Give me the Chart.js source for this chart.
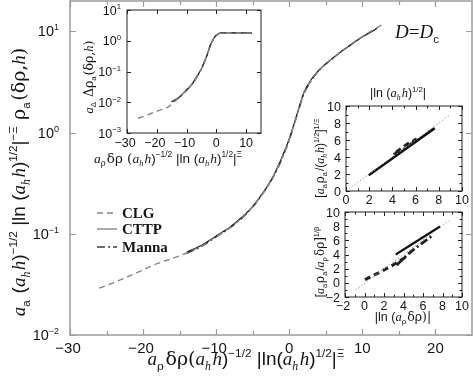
<!DOCTYPE html>
<html><head><meta charset="utf-8">
<script src="https://cdn.jsdelivr.net/npm/chart.js@4/dist/chart.umd.min.js"></script>
<style>
html,body{margin:0;padding:0;background:#fff;}
#wrap{position:relative;width:474px;height:381px;overflow:hidden;background:#fff;}
canvas{position:absolute;left:0;top:0;}
</style></head><body>
<div id="wrap">
<canvas id="c0" width="474" height="381"></canvas>
<canvas id="c1" width="474" height="381"></canvas>
<canvas id="c2" width="474" height="381"></canvas>
<canvas id="c3" width="474" height="381"></canvas>
</div>
<script>
// ---------- main plot data ----------
const mainX_CLG = [-26,-24,-22,-20,-18,-16,-14,-12,-10,-8,-6,-5,-4,-3,-2,-1,0,1,2,3,4,5,6,7,8,9,10,11,12,12.8];
const mainY_CLG = [0.029,0.033,0.038,0.044,0.051,0.057,0.065,0.076,0.094,0.117,0.155,0.185,0.23,0.29,0.39,0.56,0.85,1.45,2.45,3.3,4.1,4.8,5.5,6.3,7.1,8.0,8.9,9.9,10.9,11.8];
const mainX_CTTP = [-14,-12,-10,-8,-6,-5,-4,-3,-2,-1,0,1,2,3,4,5,6,7,8,9,10,11,12];
const mainY_CTTP = [0.066,0.077,0.095,0.118,0.157,0.187,0.232,0.295,0.395,0.57,0.87,1.48,2.5,3.35,4.1,4.8,5.5,6.25,7.0,7.9,8.8,9.7,10.7];
const mainX_Manna = [-14,-12,-10,-8,-6,-4,-2,-1,0,1,2,3,4,6,8,10,12];
const mainY_Manna = [0.064,0.075,0.093,0.116,0.153,0.228,0.385,0.55,0.84,1.43,2.4,3.25,4.05,5.45,7.05,8.85,10.8];
const mainXTicks = [-30,-20,-10,0,10,20];
const mainXMinor = [-25,-15,-5,5,15];
const mainYTicks = [0.01,0.1,1,10];
const seriesNames = ['CLG','CTTP','Manna'];

// ---------- upper-left inset data ----------
const insX_CLG = [-26.3,-24,-22,-20,-18,-16,-14.5,-13,-12,-10,-8,-6.6,-5,-3.8,-3,-2.2,-1.5,-1,-0.5,0,0.5,1.2,2,3,5,7,9,11,13];
const insY_CLG = [0.003,0.0036,0.0043,0.0051,0.006,0.0072,0.0095,0.013,0.016,0.025,0.04,0.067,0.12,0.23,0.36,0.63,0.9,1.1,1.35,1.5,1.65,1.75,1.8,1.82,1.82,1.82,1.8,1.78,1.72];
const insX_CTTP = [-15,-13,-12,-10,-8,-6.6,-5,-3.8,-3,-2.2,-1.5,-1,-0.5,0,0.5,1.2,2,3,5,7,9,11,12];
const insY_CTTP = [0.0105,0.013,0.016,0.025,0.041,0.068,0.122,0.235,0.37,0.65,0.92,1.12,1.37,1.52,1.66,1.76,1.8,1.81,1.82,1.81,1.8,1.79,1.78];
const insX_Manna = [-15,-12,-10,-8,-6,-4,-3,-2,-1,0,1,2,4,8,12];
const insY_Manna = [0.0102,0.0158,0.0245,0.039,0.08,0.2,0.35,0.7,1.08,1.48,1.72,1.79,1.81,1.8,1.76];
const insXTicks = [-30,-20,-10,0,10];
const insYTicks = [0.001,0.01,0.1,1,10];

// ---------- right insets data ----------
const diagX_top = [0,9];
const diagY_top = [0,9];
const topX_CTTP = [1.95,7.65];
const topY_CTTP = [1.85,7.4];
const topX_Manna = [4.1,5.0,5.9];
const topY_Manna = [4.3,4.95,5.9];
const topX_CLG = [4.3,5.2,6.1];
const topY_CLG = [4.55,5.45,6.15];
const diagX_bot = [-0.9,8.9];
const diagY_bot = [-1,9];
const botX_CLG = [0.05,2.4,4.2];
const botY_CLG = [0.45,2.1,3.6];
const botX_CTTP = [3.2,7.75];
const botY_CTTP = [4.0,7.95];
const botX_Manna = [3.3,4.6,6.9];
const botY_Manna = [2.5,4.2,6.6];
const rTicksTop = [0,2,4,6,8,10];
const rTicksBot = [-2,0,2,4,6,8,10];

// ---------- styles ----------
const STY = {
  CLG:  {color:'#858585', dash:[6,4], w:1.4},
  CTTP: {color:'#151515', dash:[], w:1.2},
  Manna:{color:'#3c3c3c', dash:[8,3,2,3], w:1.3}
};

function pts(xs, ys){ return xs.map((x,i)=>({x:x, y:ys[i]})); }
function ds(name, xs, ys, wScale){
  const s = STY[name];
  return {label:name, data:pts(xs,ys), borderColor:s.color, borderWidth:s.w*(wScale||1),
          borderDash:s.dash, fill:false, pointRadius:0, cubicInterpolationMode:'monotone'};
}

function fontFor(kind, size){
  switch(kind){
    case 'i': return 'italic ' + size + 'px "Liberation Serif"';
    case 'g': return size + 'px "DejaVu Serif"';
    case 'b': return 'bold ' + size + 'px "Liberation Serif"';
    case 'r': return size + 'px "Liberation Serif"';
    default: return size + 'px "Liberation Sans"';
  }
}
function drawRich(ctx, segs, x, y, size, align, rot, color){
  ctx.save();
  ctx.translate(x, y);
  if (rot) ctx.rotate(rot);
  let w = 0; const out = [];
  for (const sg of segs){
    const t = sg[0], k = sg[1], p = sg[2];
    const s = p ? size*0.62 : size;
    const f = fontFor(k, s);
    ctx.font = f;
    const sw = ctx.measureText(t).width;
    out.push({t:t, f:f, dx:w, dy: p===1 ? -size*0.42 : (p===-1 ? size*0.24 : 0)});
    w += sw + (p===-1 ? size*0.08 : 0);
  }
  const x0 = align==='center' ? -w/2 : (align==='right' ? -w : 0);
  ctx.fillStyle = color || '#151515';
  ctx.textBaseline = 'alphabetic'; ctx.textAlign = 'left';
  for (const o of out){ ctx.font = o.f; ctx.fillText(o.t, x0+o.dx, o.dy); }
  ctx.restore();
}
function numStr(v){ return (v<0 ? '\u2212' : '') + Math.abs(v); }

function frameTicks(c, o){
  const ctx = c.ctx, a = c.chartArea, xs = c.scales.x, ys = c.scales.y;
  ctx.save();
  ctx.strokeStyle = o.color; ctx.lineWidth = o.lw;
  ctx.strokeRect(a.left, a.top, a.right-a.left, a.bottom-a.top);
  ctx.beginPath();
  for (const t of o.xt){
    const p = Math.round(xs.getPixelForValue(t[0])) + 0.5;
    ctx.moveTo(p, a.bottom); ctx.lineTo(p, a.bottom - t[1]);
    ctx.moveTo(p, a.top); ctx.lineTo(p, a.top + t[1]);
  }
  for (const t of o.yt){
    const p = Math.round(ys.getPixelForValue(t[0])) + 0.5;
    ctx.moveTo(a.left, p); ctx.lineTo(a.left + t[1], p);
    ctx.moveTo(a.right, p); ctx.lineTo(a.right - t[1], p);
  }
  ctx.lineWidth = o.tlw || o.lw;
  ctx.stroke();
  ctx.restore();
}

function mkChart(id, pad, xr, yr, ylog, datasets, deco){
  return new Chart(document.getElementById(id), {
    type:'line',
    data:{datasets:datasets},
    options:{
      responsive:false, animation:false, devicePixelRatio:1,
      layout:{padding:pad},
      plugins:{legend:{display:false}, tooltip:{enabled:false}, title:{display:false}},
      elements:{point:{radius:0}, line:{tension:0}},
      scales:{
        x:{type:'linear', min:xr[0], max:xr[1], display:false},
        y:{type: ylog ? 'logarithmic' : 'linear', min:yr[0], max:yr[1], display:false}
      }
    },
    plugins:[{id:'deco'+id, afterDraw:function(c){ deco(c); }}]
  });
}

// ---------- main chart ----------
mkChart('c0', {left:70, top:1, right:2, bottom:46}, [-30,25], [0.01,20], true,
  [ds('CLG', mainX_CLG, mainY_CLG), ds('Manna', mainX_Manna, mainY_Manna), ds('CTTP', mainX_CTTP, mainY_CTTP)],
  function(c){
    const ctx = c.ctx, a = c.chartArea, xs = c.scales.x, ys = c.scales.y;
    frameTicks(c, {color:'#9a9a9a', lw:1.5, tlw:1.2,
      xt: mainXTicks.map(v=>[v,6]).concat(mainXMinor.map(v=>[v,4])),
      yt: mainYTicks.map(v=>[v,6])});
    for (const v of mainXTicks){
      ctx.save(); ctx.font = '15px "Liberation Sans"'; ctx.fillStyle = '#151515';
      ctx.textAlign = 'center'; ctx.textBaseline = 'alphabetic';
      ctx.fillText(numStr(v), xs.getPixelForValue(v) - (v<0?2:0), a.bottom + 18);
      ctx.restore();
    }
    for (const v of mainYTicks){
      const e = Math.round(Math.log10(v));
      drawRich(ctx, [['10','n',0],[numStr(e),'n',1]], a.left - 11, ys.getPixelForValue(v) + 5, 14.5, 'right');
    }
    // axis titles
    drawRich(ctx, [['a','i',0],['\u03c1','g',-1],['\u03b4\u03c1(','g',0],['a','i',0],['h','i',-1],['h','i',0],[')','n',0],['\u22121/2','n',1],
      [' |ln(','n',0],['a','i',0],['h','i',-1],['h','i',0],[')','n',0],['1/2','n',1],['|','n',0],['\u039e','n',1]],
      246, 365, 19, 'center');
    drawRich(ctx, [['a','i',0],['a','n',-1],[' (','n',0],['a','i',0],['h','i',-1],['h','i',0],[')','n',0],['\u22121/2','n',1],
      [' |ln (','n',0],['a','i',0],['h','i',-1],['h','i',0],[')','n',0],['1/2','n',1],['|','n',0],['\u2212\u039e','n',1],
      [' \u03c1','g',0],['a','n',-1],['(\u03b4\u03c1,','g',0],['h','i',0],[')','g',0]],
      25, 182, 19, 'center', -Math.PI/2);
    // D = Dc
    drawRich(ctx, [['D','i',0],['=','r',0],['D','i',0],['c','n',-1]], 395, 38, 19, 'left');
    // legend
    const ly = {CLG:213, CTTP:229, Manna:247};
    c.data.datasets.forEach(function(d){
      const yy = ly[d.label];
      ctx.save();
      ctx.strokeStyle = d.label==='CTTP' ? '#777' : d.borderColor; ctx.lineWidth = d.borderWidth; ctx.setLineDash(d.borderDash);
      ctx.beginPath(); ctx.moveTo(97, yy); ctx.lineTo(117, yy); ctx.stroke();
      ctx.restore();
      drawRich(ctx, [[d.label,'b',0]], 122, yy + 5, 15, 'left');
    });
  });

// ---------- upper-left inset ----------
mkChart('c1', {left:127, top:10, right:213, bottom:248}, [-30,15], [0.001,10], true,
  [ds('CLG', insX_CLG, insY_CLG), ds('Manna', insX_Manna, insY_Manna), ds('CTTP', insX_CTTP, insY_CTTP)],
  function(c){
    const ctx = c.ctx, a = c.chartArea, xs = c.scales.x, ys = c.scales.y;
    frameTicks(c, {color:'#222', lw:1, xt: insXTicks.map(v=>[v,4]), yt: insYTicks.map(v=>[v,4])});
    for (const v of insXTicks){
      ctx.save(); ctx.font = '12.5px "Liberation Sans"'; ctx.fillStyle = '#151515';
      ctx.textAlign = 'center';
      ctx.fillText(numStr(v), xs.getPixelForValue(v) - (v<0?2:0), a.bottom + 14);
      ctx.restore();
    }
    for (const v of insYTicks){
      const e = Math.round(Math.log10(v));
      drawRich(ctx, [['10','n',0],[numStr(e),'n',1]], a.left - 6, ys.getPixelForValue(v) + 4.5, 12.5, 'right');
    }
    drawRich(ctx, [['a','i',0],['\u03c1','g',-1],['\u03b4\u03c1 (','g',0],['a','i',0],['h','i',-1],['h','i',0],[')','n',0],['\u22121/2','n',1],
      [' |ln (','n',0],['a','i',0],['h','i',-1],['h','i',0],[')','n',0],['1/2','n',1],['|','n',0],['\u039e','n',1]],
      168, 163, 13.5, 'center');
    drawRich(ctx, [['a','i',0],['\u0394','n',-1],[' \u0394\u03c1','g',0],['a','n',-1],['(\u03b4\u03c1,','g',0],['h','i',0],[')','g',0]],
      93, 77, 12.5, 'center', -Math.PI/2);
  });

// ---------- right insets ----------
function linDeco(c, ticks, minor, labBase){
  const ctx = c.ctx, a = c.chartArea, xs = c.scales.x, ys = c.scales.y;
  frameTicks(c, {color:'#222', lw:1, xt: ticks.map(v=>[v,4]).concat(minor.map(v=>[v,2.5])),
                 yt: ticks.map(v=>[v,4]).concat(minor.map(v=>[v,2.5]))});
  ctx.save(); ctx.font = '12.5px "Liberation Sans"'; ctx.fillStyle = '#151515';
  ctx.textAlign = 'center';
  for (const v of ticks) ctx.fillText(numStr(v), xs.getPixelForValue(v) - (v<0?2:0), a.bottom + labBase);
  ctx.textAlign = 'right';
  for (const v of ticks) ctx.fillText(numStr(v), a.left - 5, ys.getPixelForValue(v) + 4.5);
  ctx.restore();
}
const refDiag = {borderColor:'#9a9a9a', borderWidth:1, borderDash:[1.5,2], fill:false, pointRadius:0};
mkChart('c2', {left:346, top:106, right:12, bottom:190}, [0,10], [0,10], false,
  [Object.assign({label:'y=x', data:pts(diagX_top, diagY_top)}, refDiag),
   Object.assign(ds('CLG', topX_CLG, topY_CLG, 2), {borderColor:'#222'}),
   Object.assign(ds('Manna', topX_Manna, topY_Manna, 2), {borderColor:'#222'}),
   Object.assign(ds('CTTP', topX_CTTP, topY_CTTP, 2.2), {borderColor:'#111'})],
  function(c){
    linDeco(c, rTicksTop, [1,3,5,7,9], 13);
    drawRich(c.ctx, [['|ln (','n',0],['a','i',0],['h','i',-1],['h','i',0],[')','n',0],['1/2','n',1],['|','n',0]], 398, 97, 12.5, 'center');
    drawRich(c.ctx, [['[','n',0],['a','i',0],['a','n',-1],['\u03c1','g',0],['a','n',-1],['/(','n',0],['a','i',0],['h','i',-1],['h','i',0],[')','n',0],['1/2','n',1],[']','n',0],['1/\u039e','n',1]],
      324, 158, 12, 'center', -Math.PI/2);
  });

mkChart('c3', {left:345, top:212, right:12, bottom:84}, [-2,10], [-2,10], false,
  [Object.assign({label:'y=x', data:pts(diagX_bot, diagY_bot)}, refDiag),
   Object.assign(ds('CLG', botX_CLG, botY_CLG, 2.2), {borderColor:'#222', borderDash:[6,4]}),
   Object.assign(ds('Manna', botX_Manna, botY_Manna, 2.2), {borderColor:'#222'}),
   Object.assign(ds('CTTP', botX_CTTP, botY_CTTP, 1.8), {borderColor:'#111'})],
  function(c){
    linDeco(c, rTicksBot, [-1,1,3,5,7,9], 13);
    drawRich(c.ctx, [['|ln (','n',0],['a','i',0],['\u03c1','g',-1],['\u03b4\u03c1)|','g',0]], 403, 321, 12.5, 'center');
    drawRich(c.ctx, [['[','n',0],['a','i',0],['a','n',-1],['\u03c1','g',0],['a','n',-1],['/','n',0],['a','i',0],['\u03c1','g',-1],['\u03b4\u03c1]','g',0],['1/\u03b2','n',1]],
      324, 262, 12, 'center', -Math.PI/2);
  });
</script>
</body></html>
